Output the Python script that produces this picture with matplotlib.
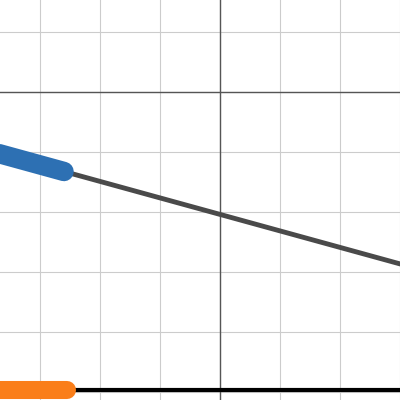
import numpy as np
import matplotlib.pyplot as plt

# line y = b + m*x, plus two highlighted segments
slope = -0.275
intercept = -2.04
line_x = [-3.7, 3.1]
blue_x = [-3.7, -2.6]
orange_x = [-3.7, -2.55]
base_y = -4.97

fig = plt.figure(figsize=(4, 4), dpi=100)
ax = fig.add_axes([0, 0, 1, 1])
ax.set_xlim(-220 / 60, 180 / 60)
ax.set_ylim((92 - 400) / 60, 92 / 60)

for gx in np.arange(-3, 4, 1):
    ax.axvline(gx, color="#cccccc", lw=0.8, zorder=0)
for gy in np.arange(-5, 2, 1):
    ax.axhline(gy, color="#cccccc", lw=0.8, zorder=0)
ax.axvline(0, color="#555555", lw=1, zorder=1)
ax.axhline(0, color="#555555", lw=1, zorder=1)

lx = np.array(line_x)
ax.plot(lx, intercept + slope * lx, color="#4a4a4a", lw=3.5, zorder=2)
ax.axhline(base_y, color="black", lw=3, zorder=2)

bx = np.array(blue_x)
ax.plot(bx, intercept + slope * bx, color="#2d70b3", lw=14,
        solid_capstyle="round", zorder=3)
ax.plot(orange_x, [base_y, base_y], color="#fa7e19", lw=13,
        solid_capstyle="round", zorder=3)

ax.set_xticks([]); ax.set_yticks([])
for s in ax.spines.values():
    s.set_visible(False)
fig.savefig("out.png", dpi=100)
